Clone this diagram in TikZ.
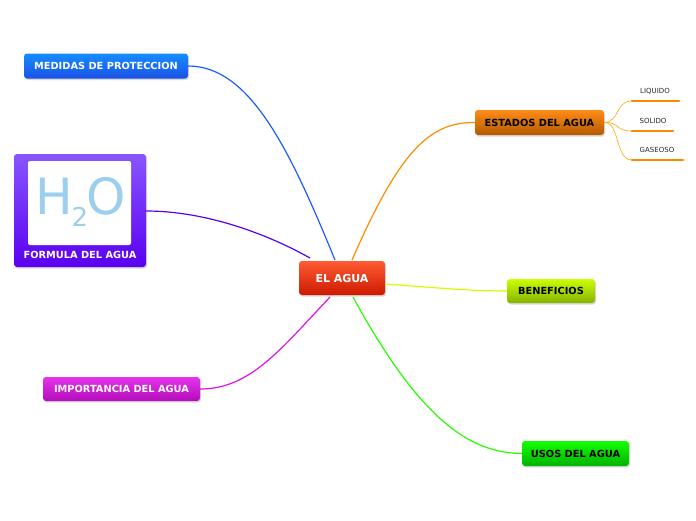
\documentclass[tikz,border=0pt]{standalone}
\usepackage{fontspec}
\setmainfont{DejaVu Sans}
\usetikzlibrary{shadows}
\definecolor{pur}{HTML}{6A2CFF}
\definecolor{purd}{HTML}{5A00F0}
\definecolor{mag}{HTML}{E010E8}
\definecolor{blu}{HTML}{1E5BFF}
\definecolor{h2o}{HTML}{9CCFEE}
\begin{document}
\begin{tikzpicture}[x=1pt,y=-1pt,
 box/.style={rounded corners=3pt,font=\bfseries\fontsize{9.8}{10}\selectfont,inner sep=0pt,drop shadow={opacity=0.3,shadow xshift=1pt,shadow yshift=-1.5pt}},
 con/.style={line width=1.2pt},
 sub/.style={font=\fontsize{7}{7}\selectfont,text=black!85}]
\useasboundingbox (0,0) rectangle (696,520);
\node[box,top color=red!60!orange!80,bottom color=red!75!orange!80!black,text=white,minimum width=86,minimum height=34,font=\bfseries\fontsize{11}{11}\selectfont] (c) at (342,278) {EL AGUA};
\node[box,top color=blu!70!cyan,bottom color=blu!90!black,text=white,minimum width=164,minimum height=25] (m) at (106,66) {MEDIDAS DE PROTECCION};
\node[box,top color=pur!80!white,bottom color=purd,minimum width=132,minimum height=113] (f) at (80,210.5) {};
\node[fill=white,rounded corners=2pt,minimum width=103,minimum height=84,inner sep=0pt] (img) at (79.5,203) {};
\node[text=h2o,font=\fontsize{50}{50}\selectfont,inner sep=0pt] (h) at (54,196) {H};
\node[text=h2o,font=\fontsize{26}{26}\selectfont,inner sep=0pt] (two) at (80,217) {2};
\node[text=h2o,font=\fontsize{50}{50}\selectfont,inner sep=0pt] (o) at (106,196) {O};
\node[text=white,font=\bfseries\fontsize{9.8}{10}\selectfont] (ft) at (80,255) {FORMULA DEL AGUA};
\node[box,top color=mag!85!white,bottom color=mag!80!black,text=white,minimum width=157,minimum height=24] (i) at (121.5,389) {IMPORTANCIA DEL AGUA};
\node[box,top color=orange!90,bottom color=orange!70!black,minimum width=129,minimum height=25] (e) at (539.5,122.5) {ESTADOS DEL AGUA};
\node[box,top color=lime!80!yellow,bottom color=lime!70!black,minimum width=88,minimum height=24] (b) at (551,291) {BENEFICIOS};
\node[box,top color=green!90!lime,bottom color=green!70!black,minimum width=107,minimum height=25] (u) at (575.5,453.5) {USOS DEL AGUA};
\draw[con,blu] (335,260) .. controls (290,150) and (250,66) .. (m.east);
\draw[con,purd] (310,258) .. controls (260,230) and (200,211) .. (f.east |- 0,211);
\draw[con,mag] (330,297) .. controls (280,350) and (250,389) .. (i.east);
\draw[con,orange!90!yellow] (352,260) .. controls (400,150) and (430,122) .. (e.west);
\draw[con,lime!70!yellow] (c.east |- 0,284) .. controls (440,288) and (470,291) .. (b.west);
\draw[con,green!80!lime] (353,297) .. controls (420,420) and (470,453) .. (u.west);
\node[sub] (l) at (655,91) {LIQUIDO};
\node[sub] (s) at (653,121) {SOLIDO};
\node[sub] (g) at (657,150) {GASEOSO};
\coordinate (l1) at (632,101); \coordinate (l2) at (679,101);
\coordinate (s1) at (632,131); \coordinate (s2) at (673,131);
\coordinate (g1) at (632,160); \coordinate (g2) at (683,160);
\begin{scope}[orange!70!yellow]
\draw[line width=0.6pt] (e.east) .. controls (620,122) and (615,101) .. (l1);
\draw[line width=0.6pt] (e.east) .. controls (620,122) and (615,131) .. (s1);
\draw[line width=0.6pt] (e.east) .. controls (620,122) and (615,160) .. (g1);
\draw[line width=2.5pt,line cap=round,orange!95!yellow] (l1)--(l2) (s1)--(s2) (g1)--(g2);
\end{scope}
\end{tikzpicture}
\end{document}
